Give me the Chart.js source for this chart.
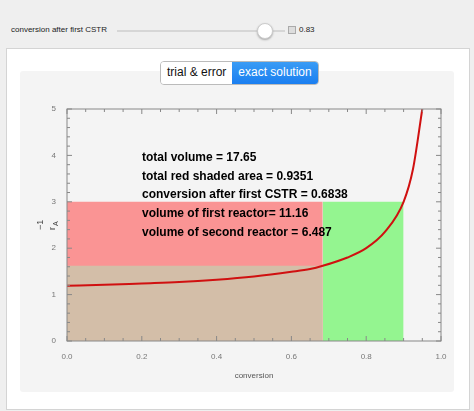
<!DOCTYPE html><html><head><meta charset="utf-8">
<script src="https://cdn.jsdelivr.net/npm/chart.js@4"></script>
<style>
body{margin:0;width:474px;height:411px;background:#efefef;font-family:"Liberation Sans",Arial,sans-serif;position:relative;overflow:hidden}
#ctl{position:absolute;left:11px;top:25px;font-size:8px;color:#222}
#track{position:absolute;left:117px;top:30px;width:168px;height:2px;background:#d6d6d6}
#knob{position:absolute;left:257px;top:23px;width:14px;height:14px;border-radius:50%;background:#fff;border:1px solid #ccc;box-shadow:0 1px 2px #aaa}
#plus{position:absolute;left:288px;top:26px;width:6px;height:6px;border:1px solid #aaa;background:#ddd}
#val{position:absolute;left:299px;top:25px;font-size:8px;color:#222}
#white{position:absolute;left:6px;top:48px;width:462px;height:360px;background:#fff;border:1px solid #d4d4d4}
#gray{position:absolute;left:20px;top:71px;width:434px;height:321px;background:#f4f4f4;border-radius:3px}
#btns{position:absolute;left:160px;top:61px;height:22px;display:flex;font-size:12px;border:1px solid #bbb;border-radius:4px;overflow:hidden}
#btns div{padding:3px 6px}
#b2{background:linear-gradient(#3a9cf5,#1a7ef0);color:#fff}
#b1{background:#fff;color:#111}
#c{position:absolute;left:20px;top:95px}
</style></head><body>
<div id="ctl">conversion after first CSTR</div><div id="track"></div><div id="knob"></div><div id="plus"></div><div id="val">0.83</div>
<div id="white"></div><div id="gray"></div>
<div id="btns"><div id="b1">trial &amp; error</div><div id="b2">exact solution</div></div>
<div id="c" style="width:434px;height:290px"><canvas id="cv"></canvas></div>
<script>
const curveX=[0,0.1,0.2,0.3,0.4,0.5,0.6,0.65,0.6838,0.75,0.8,0.85,0.9,0.925,0.95];
const curveY=[1.19,1.21,1.24,1.27,1.32,1.39,1.49,1.55,1.62,1.8,2.0,2.35,3.0,3.7,5.0];
const x1=0.6838, x2=0.9, rate1=1.62, rate2=3.0;
const xTicks=[0,0.2,0.4,0.6,0.8,1.0];
const yTicks=[0,1,2,3,4,5];
const notes=["total volume = 17.65","total red shaded area = 0.9351","conversion after first CSTR = 0.6838","volume of first reactor= 11.16","volume of second reactor = 6.487"];
const rect=(a,b,h,c)=>({data:[{x:a,y:h},{x:b,y:h}],borderWidth:0,pointRadius:0,fill:'origin',backgroundColor:c,tension:0});
const frame={id:'frame',afterDatasetsDraw(ch){const {ctx,chartArea:a,scales:{x,y}}=ch;ctx.save();ctx.strokeStyle='#888';ctx.lineWidth=1;ctx.strokeRect(a.left,a.top,a.right-a.left,a.bottom-a.top);
for(let v=0;v<=1.0001;v+=0.05){const p=x.getPixelForValue(v),L=(Math.round(v*100)%20==0)?5:3;ctx.beginPath();ctx.moveTo(p,a.bottom);ctx.lineTo(p,a.bottom-L);ctx.moveTo(p,a.top);ctx.lineTo(p,a.top+L);ctx.stroke();}
for(let v=0;v<=5.0001;v+=0.2){const p=y.getPixelForValue(v),L=(Math.round(v*10)%10==0)?5:3;ctx.beginPath();ctx.moveTo(a.left,p);ctx.lineTo(a.left+L,p);ctx.moveTo(a.right,p);ctx.lineTo(a.right-L,p);ctx.stroke();}
ctx.fillStyle='#000';ctx.font='bold 12px "Liberation Sans",Arial';notes.forEach((t,i)=>ctx.fillText(t,a.left+75,a.top+52+i*18.7));
ctx.fillStyle='#444';ctx.font='9px "Liberation Sans"';ctx.translate(23,a.top+(a.bottom-a.top)/2+5);ctx.rotate(-Math.PI/2);ctx.fillText('−1',0,0);ctx.fillText('r',0,12);ctx.font='7px "Liberation Sans"';ctx.fillText('A',4,15);ctx.restore();}};
new Chart(document.getElementById('cv'),{type:'line',data:{datasets:[
{data:curveX.map((v,i)=>({x:v,y:curveY[i]})),borderColor:'#d01010',borderWidth:2,pointRadius:0,tension:0.4,cubicInterpolationMode:'monotone',fill:false},
rect(x1,x2,rate2,'#94f590'),rect(0,x1,rate1,'#d3bea8'),rect(0,x1,rate2,'#fa9494')]},
options:{animation:false,responsive:true,maintainAspectRatio:false,layout:{padding:{top:14,right:13}},plugins:{legend:{display:false},tooltip:{enabled:false}},
scales:{x:{type:'linear',min:0,max:1,afterBuildTicks(s){s.ticks=xTicks.map(v=>({value:v}))},afterFit(s){s.height=44},grid:{display:false},border:{display:false},ticks:{color:'#777',font:{size:8},maxRotation:0,callback:v=>v.toFixed(1)},title:{display:true,text:'conversion',color:'#555',font:{size:8}}},
y:{min:0,max:5,afterBuildTicks(s){s.ticks=yTicks.map(v=>({value:v}))},afterFit(s){s.width=47},grid:{display:false},border:{display:false},ticks:{color:'#777',font:{size:8}}}}},plugins:[frame]});
</script></body></html>
